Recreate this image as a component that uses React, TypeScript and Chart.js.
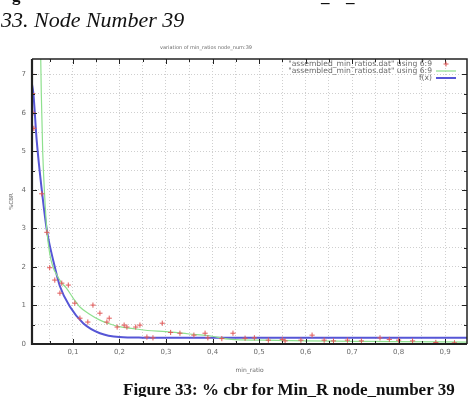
import React, { useEffect, useRef } from 'react';
import { Chart, registerables } from 'chart.js';

Chart.register(...registerables);

// ---- data ----
const pointX = [0.013, 0.013, 0.014, 0.016, 0.033, 0.044, 0.05, 0.061, 0.072, 0.076,
  0.09, 0.104, 0.115, 0.132, 0.143, 0.158, 0.173, 0.178, 0.195, 0.21,
  0.216, 0.235, 0.244, 0.259, 0.272, 0.292, 0.31, 0.33, 0.36, 0.384,
  0.39, 0.42, 0.444, 0.47, 0.49, 0.52, 0.55, 0.556, 0.59, 0.614,
  0.64, 0.66, 0.69, 0.72, 0.76, 0.78, 0.8, 0.83, 0.88, 0.92];
const pointY = [7.0, 6.5, 6.0, 5.6, 3.9, 2.9, 1.98, 1.66, 1.32, 1.58,
  1.53, 1.06, 0.67, 0.57, 1.01, 0.8, 0.57, 0.67, 0.44, 0.49,
  0.44, 0.44, 0.49, 0.18, 0.16, 0.54, 0.3, 0.28, 0.23, 0.28,
  0.16, 0.14, 0.28, 0.15, 0.16, 0.1, 0.12, 0.08, 0.1, 0.23,
  0.1, 0.08, 0.1, 0.08, 0.16, 0.12, 0.1, 0.08, 0.04, 0.03];

const smoothX = [0.030, 0.032, 0.035, 0.039, 0.044, 0.05, 0.057, 0.065, 0.075, 0.086,
  0.1, 0.115, 0.135, 0.158, 0.18, 0.2, 0.23, 0.26, 0.3, 0.35,
  0.39, 0.44, 0.5, 0.6, 0.7, 0.8, 0.947];
const smoothY = [8.0, 6.5, 5.0, 3.9, 2.95, 2.35, 2.0, 1.8, 1.6, 1.45,
  1.2, 0.96, 0.78, 0.62, 0.52, 0.45, 0.4, 0.35, 0.32, 0.26,
  0.22, 0.12, 0.1, 0.08, 0.07, 0.06, 0.05];

const fitX = [0.012, 0.015, 0.022, 0.033, 0.044, 0.058, 0.072, 0.094, 0.122, 0.158,
  0.2, 0.25, 0.4, 0.6, 0.8, 0.947];
const fitY = [6.75, 6.5, 5.3, 4.0, 2.95, 2.15, 1.5, 0.96, 0.54, 0.28,
  0.18, 0.165, 0.16, 0.16, 0.16, 0.16];

const seriesLabels = [
  '"assembled_min_ratios.dat" using 6:9',
  '"assembled_min_ratios.dat" using 6:9',
  'f(x)',
];
const chartTitle = 'variation of min_ratios node_num:39';
const xTitle = 'min_ratio';
const yTitle = '%CBR';

const X_MIN = 0.012;
const X_MAX = 0.947;
const Y_MIN = 0;
const Y_MAX = 7.4;

const RED = '#e05a5a';
const GREEN = '#8ee08e';
const BLUE = '#5656d6';
const TEXT = '#6a6a6a';

const isMultiple = (v: number, step: number) => Math.abs(v / step - Math.round(v / step)) < 1e-6;

const framePlugin = {
  id: 'gnuFrame',
  afterDatasetsDraw(chart: any) {
    const { ctx, chartArea: a, scales } = chart;
    ctx.save();
    ctx.strokeStyle = '#222';
    ctx.lineWidth = 1;
    scales.x.ticks.forEach((t: any) => {
      const px = Math.round(scales.x.getPixelForValue(t.value)) + 0.5;
      const len = t.label !== '' ? 5 : 3;
      ctx.beginPath();
      ctx.moveTo(px, a.bottom); ctx.lineTo(px, a.bottom - len);
      ctx.moveTo(px, a.top); ctx.lineTo(px, a.top + len);
      ctx.stroke();
    });
    scales.y.ticks.forEach((t: any) => {
      const py = Math.round(scales.y.getPixelForValue(t.value)) + 0.5;
      const len = t.label !== '' ? 5 : 3;
      ctx.beginPath();
      ctx.moveTo(a.left, py); ctx.lineTo(a.left + len, py);
      ctx.moveTo(a.right, py); ctx.lineTo(a.right - len, py);
      ctx.stroke();
    });
    ctx.lineWidth = 1.5;
    ctx.beginPath();
    ctx.moveTo(a.left, a.top); ctx.lineTo(a.right, a.top); ctx.lineTo(a.right, a.bottom);
    ctx.stroke();
    ctx.lineWidth = 2.2;
    ctx.beginPath();
    ctx.moveTo(a.left, a.top); ctx.lineTo(a.left, a.bottom); ctx.lineTo(a.right, a.bottom);
    ctx.stroke();
    ctx.restore();
  },
  afterDraw(chart: any) {
    const { ctx } = chart;
    ctx.save();
    // title
    ctx.fillStyle = TEXT;
    ctx.font = '5px "DejaVu Sans"';
    ctx.textAlign = 'center';
    ctx.textBaseline = 'middle';
    ctx.fillText(chartTitle, 206, 48);
    // legend
    ctx.font = '7.6px "DejaVu Sans"';
    ctx.textAlign = 'right';
    const rows = [64, 71, 78];
    const ds = chart.data.datasets;
    const textRight = 432;
    const sx0 = 436, sx1 = 456;
    ds.forEach((d: any, i: number) => {
      const y = rows[i];
      ctx.fillStyle = TEXT;
      ctx.fillText(d.label, textRight, y);
      ctx.strokeStyle = d.borderColor;
      if (i === 0) {
        ctx.lineWidth = 1;
        const cx = (sx0 + sx1) / 2;
        ctx.beginPath();
        ctx.moveTo(cx - 2.5, y); ctx.lineTo(cx + 2.5, y);
        ctx.moveTo(cx, y - 2.5); ctx.lineTo(cx, y + 2.5);
        ctx.stroke();
      } else {
        ctx.lineWidth = d.borderWidth;
        ctx.beginPath();
        ctx.moveTo(sx0, y); ctx.lineTo(sx1, y);
        ctx.stroke();
      }
    });
    ctx.restore();
  },
};

export default function App() {
  const ref = useRef<HTMLCanvasElement>(null);

  useEffect(() => {
    const pts = pointX.map((x, i) => ({ x, y: pointY[i] }));
    const smooth = smoothX.map((x, i) => ({ x, y: smoothY[i] }));
    const fit = fitX.map((x, i) => ({ x, y: fitY[i] }));
    const chart = new Chart(ref.current as HTMLCanvasElement, {
      type: 'scatter',
      data: {
        datasets: [
          {
            label: seriesLabels[0], data: pts, showLine: false,
            pointStyle: 'cross', pointRadius: 2.6, borderColor: RED, backgroundColor: RED, borderWidth: 1,
          },
          {
            label: seriesLabels[1], data: smooth, showLine: true, pointRadius: 0,
            borderColor: GREEN, borderWidth: 1.2, cubicInterpolationMode: 'monotone',
          },
          {
            label: seriesLabels[2], data: fit, showLine: true, pointRadius: 0,
            borderColor: BLUE, borderWidth: 2, cubicInterpolationMode: 'monotone',
          },
        ],
      } as any,
      options: {
        animation: false,
        responsive: false,
        devicePixelRatio: 1,
        layout: { padding: { top: 59, right: 7, bottom: 0, left: 0 } },
        plugins: { legend: { display: false }, tooltip: { enabled: false }, title: { display: false } },
        scales: {
          x: {
            type: 'linear', min: X_MIN, max: X_MAX,
            afterFit: (s: any) => { s.height = 53; },
            ticks: {
              stepSize: 0.05, includeBounds: false, autoSkip: false, maxRotation: 0, padding: 4,
              color: TEXT, font: { family: 'DejaVu Sans', size: 7 },
              callback: (v: any) => (isMultiple(Number(v), 0.1) ? Number(v).toFixed(1).replace('.', ',') : ''),
            },
            grid: { color: '#cfcfcf', lineWidth: 1, drawTicks: false },
            border: { display: false, dash: [1, 2] },
            title: { display: true, text: xTitle, color: TEXT, font: { family: 'DejaVu Sans', size: 6 }, padding: { top: 0, bottom: 23 } },
          },
          y: {
            type: 'linear', min: Y_MIN, max: Y_MAX,
            afterFit: (s: any) => { s.width = 32; },
            ticks: {
              stepSize: 0.5, includeBounds: false, autoSkip: false, padding: 6,
              color: TEXT, font: { family: 'DejaVu Sans', size: 7 },
              callback: (v: any) => (isMultiple(Number(v), 1) ? String(Math.round(Number(v))) : ''),
            },
            grid: { color: '#cfcfcf', lineWidth: 1, drawTicks: false },
            border: { display: false, dash: [1, 2] },
            title: { display: true, text: yTitle, color: TEXT, font: { family: 'DejaVu Sans', size: 5.5 }, padding: { top: 8, bottom: 0 } },
          },
        },
      } as any,
      plugins: [framePlugin],
    });
    return () => chart.destroy();
  }, []);

  return (
    <div style={{ position: 'fixed', left: 0, top: 0, width: 474, height: 397, overflow: 'hidden', background: '#fff' }}>
      <canvas ref={ref} width={474} height={397} style={{ position: 'absolute', left: 0, top: 0, width: 474, height: 397 }} />
      <span style={{ position: 'absolute', left: 12, top: -13, font: 'bold 17px "Liberation Serif"', lineHeight: '17px', color: '#111' }}>g</span>
      <span style={{ position: 'absolute', left: 321, top: -12, font: 'bold 17px "Liberation Serif"', lineHeight: '17px', color: '#111' }}>_</span>
      <span style={{ position: 'absolute', left: 346, top: -12, font: 'bold 17px "Liberation Serif"', lineHeight: '17px', color: '#111' }}>_</span>
      <div style={{ position: 'absolute', left: 1, top: 9, font: 'italic 22px "Liberation Serif"', lineHeight: '22px', color: '#111', whiteSpace: 'nowrap' }}>
        33. Node Number 39
      </div>
      <div style={{ position: 'absolute', left: 123, top: 381, font: 'bold 17px "Liberation Serif"', lineHeight: '17px', color: '#111', whiteSpace: 'nowrap' }}>
        Figure 33: % cbr for Min_R node_number 39
      </div>
    </div>
  );
}
